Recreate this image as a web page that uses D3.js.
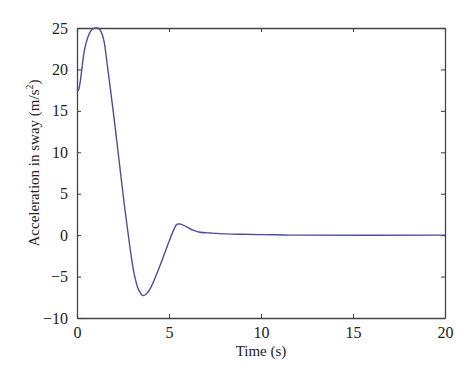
<!DOCTYPE html>
<html>
<head>
<meta charset="utf-8">
<script src="https://cdn.jsdelivr.net/npm/d3@7"></script>
<style>
  body { margin: 0; background: #fff; }
</style>
</head>
<body>
<div id="chart"></div>
<script>
//data
const time = [0, 0.07, 0.16, 0.25, 0.43, 0.71, 0.9, 1.07, 1.2, 1.3, 1.45, 1.61, 1.8, 2.07, 2.25, 2.43, 2.61, 2.79, 2.97, 3.15, 3.35, 3.6, 3.85, 4.06, 4.51, 4.96, 5.25, 5.42, 5.6, 5.96, 6.3, 6.68, 7.3, 8.1, 9, 10.8, 12, 20];
const accel = [17.6, 17.45, 18.3, 19.8, 22.6, 24.5, 24.95, 25.0, 24.9, 24.6, 23.6, 21.2, 17.9, 13.1, 9.7, 6.3, 3.0, 0.0, -2.9, -5.1, -6.6, -7.3, -6.9, -6.1, -3.7, -1.0, 0.6, 1.3, 1.35, 1.0, 0.6, 0.35, 0.25, 0.15, 0.1, 0.04, 0.0, 0.0];
const xTicks = [0, 5, 10, 15, 20];
const yTicks = [-10, -5, 0, 5, 10, 15, 20, 25];

const serif = "'Liberation Serif', 'DejaVu Serif', serif";

//size
const width = 474, height = 382;
const margin = { top: 28, right: 29, bottom: 64, left: 77 };
const innerWidth = width - margin.left - margin.right;
const innerHeight = height - margin.top - margin.bottom;

//scale
const xScale = d3.scaleLinear().domain([0, 20]).range([0, innerWidth]);
const yScale = d3.scaleLinear().domain([-10, 25]).range([innerHeight, 0]);

const svg = d3.select("#chart").append("svg")
  .attr("width", width)
  .attr("height", height)
  .style("font-family", serif);

const g = svg.append("g").attr("transform", `translate(${margin.left},${margin.top})`);

const fmt = (d) => (d < 0 ? "\u2212" + Math.abs(d) : d);

//x-axis (bottom + top)
g.append("g").attr("class", "axis x-axis")
  .attr("transform", `translate(0,${innerHeight})`)
  .call(d3.axisBottom(xScale).tickValues(xTicks).tickSizeInner(-4).tickSizeOuter(0).tickPadding(9).tickFormat(fmt));
g.append("g").attr("class", "axis x-top")
  .call(d3.axisTop(xScale).tickValues(xTicks).tickSizeInner(-4).tickSizeOuter(0).tickFormat(""));

//y-axis (left + right)
g.append("g").attr("class", "axis y-axis")
  .call(d3.axisLeft(yScale).tickValues(yTicks).tickSizeInner(-4).tickSizeOuter(0).tickPadding(9).tickFormat(fmt));
g.append("g").attr("class", "axis y-right")
  .attr("transform", `translate(${innerWidth},0)`)
  .call(d3.axisRight(yScale).tickValues(yTicks).tickSizeInner(-4).tickSizeOuter(0).tickFormat(""));

g.selectAll(".axis").attr("font-family", serif).attr("font-size", 16);
g.selectAll(".axis path.domain").attr("stroke", "#444").attr("stroke-width", 1.3);
g.selectAll(".axis line").attr("stroke", "#444").attr("stroke-width", 1.1);
g.selectAll(".axis text")
  .style("font-family", serif)
  .attr("font-size", 16)
  .attr("fill", "#222");

//mark
const points = time.map((t, i) => ({ t: t, a: accel[i] }));
g.append("path")
  .datum(points)
  .attr("fill", "none")
  .attr("stroke", "#4d4d9c")
  .attr("stroke-width", 1.4)
  .attr("d", d3.line().x((d) => xScale(d.t)).y((d) => yScale(d.a)).curve(d3.curveCatmullRom.alpha(0.5)));

//labels
svg.append("text")
  .attr("x", margin.left + innerWidth / 2)
  .attr("y", 356)
  .attr("text-anchor", "middle")
  .attr("font-size", 15)
  .attr("fill", "#222")
  .text("Time (s)");

const yl = svg.append("text")
  .attr("transform", `translate(39,${margin.top + innerHeight / 2 - 10}) rotate(-90)`)
  .attr("text-anchor", "middle")
  .attr("font-size", 15)
  .attr("fill", "#222");
yl.append("tspan").text("Acceleration in sway (m/s");
yl.append("tspan").attr("font-size", 10).attr("dy", -6).text("2");
yl.append("tspan").attr("dy", 6).text(")");
</script>
</body>
</html>
